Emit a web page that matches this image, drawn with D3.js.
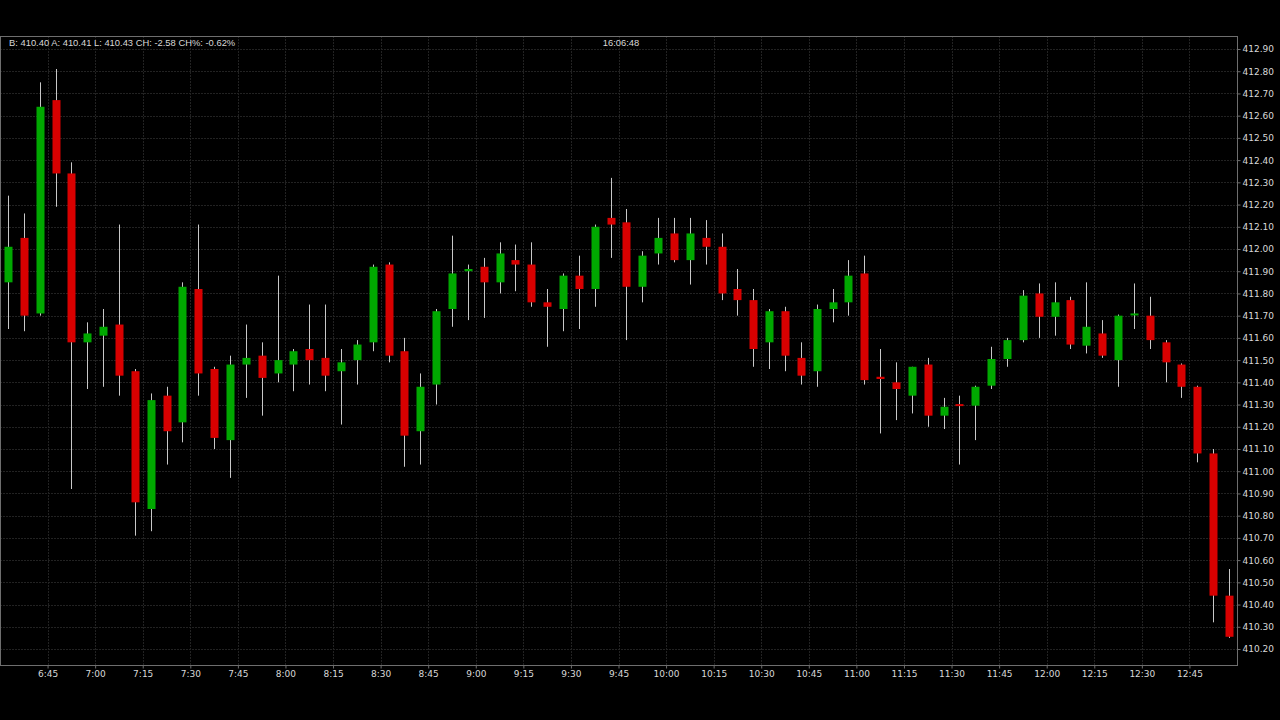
<!DOCTYPE html>
<html><head><meta charset="utf-8">
<script src="https://cdn.jsdelivr.net/npm/d3@7"></script>
<style>html,body{margin:0;padding:0;background:#000;overflow:hidden}</style>
</head><body><svg id="c" width="1280" height="720"></svg>
<script>
const times = ["6:30","6:35","6:40","6:45","6:50","6:55","7:00","7:05","7:10","7:15","7:20","7:25","7:30","7:35","7:40","7:45","7:50","7:55",
"8:00","8:05","8:10","8:15","8:20","8:25","8:30","8:35","8:40","8:45","8:50","8:55","9:00","9:05","9:10","9:15","9:20","9:25","9:30","9:35","9:40","9:45","9:50","9:55",
"10:00","10:05","10:10","10:15","10:20","10:25","10:30","10:35","10:40","10:45","10:50","10:55","11:00","11:05","11:10","11:15","11:20","11:25","11:30","11:35","11:40","11:45","11:50","11:55",
"12:00","12:05","12:10","12:15","12:20","12:25","12:30","12:35","12:40","12:45","12:50","12:55"];
const open = [411.85,412.05,411.71,412.67,412.34,411.58,411.61,411.66,411.45,410.83,411.34,411.22,411.82,411.46,411.14,411.48,411.52,411.44,
411.48,411.55,411.51,411.45,411.50,411.58,411.93,411.54,411.18,411.39,411.73,411.90,411.92,411.85,411.95,411.93,411.76,411.73,411.88,411.82,412.14,412.12,411.83,411.98,
412.07,411.95,412.05,412.01,411.82,411.77,411.58,411.72,411.51,411.45,411.73,411.76,411.89,411.425,411.40,411.34,411.48,411.25,411.302,411.295,411.385,411.505,411.59,411.80,
411.695,411.77,411.565,411.62,411.50,411.703,411.70,411.58,411.48,411.38,411.08,410.44];
const high = [412.24,412.16,412.75,412.81,412.39,411.67,411.73,412.11,411.46,411.35,411.38,411.85,412.11,411.47,411.52,411.66,411.58,411.88,
411.55,411.75,411.75,411.55,411.59,411.93,411.94,411.60,411.44,411.73,412.06,411.93,411.96,412.03,412.02,412.03,411.82,411.89,411.97,412.11,412.32,412.18,411.99,412.14,
412.14,412.14,412.13,412.07,411.91,411.82,411.73,411.74,411.58,411.75,411.82,411.95,411.97,411.55,411.49,411.47,411.51,411.33,411.34,411.385,411.56,411.60,411.815,411.845,
411.85,411.785,411.85,411.68,411.705,411.845,411.785,411.59,411.485,411.385,411.10,410.56];
const low = [411.64,411.63,411.70,412.19,410.92,411.37,411.38,411.34,410.71,410.73,411.03,411.13,411.34,411.10,410.97,411.33,411.25,411.40,
411.36,411.39,411.36,411.21,411.39,411.54,411.49,411.02,411.03,411.30,411.65,411.68,411.69,411.80,411.81,411.74,411.56,411.63,411.64,411.74,411.96,411.59,411.76,411.93,
411.94,411.84,411.93,411.77,411.70,411.47,411.46,411.45,411.39,411.38,411.67,411.70,411.39,411.17,411.23,411.26,411.20,411.19,411.03,411.14,411.37,411.47,411.58,411.60,
411.61,411.55,411.53,411.51,411.38,411.64,411.55,411.40,411.33,411.04,410.32,410.25];
const close = [412.01,411.70,412.64,412.34,411.58,411.62,411.65,411.43,410.86,411.32,411.18,411.83,411.44,411.15,411.48,411.51,411.42,411.50,
411.54,411.50,411.43,411.49,411.57,411.92,411.52,411.16,411.38,411.72,411.89,411.91,411.85,411.98,411.93,411.76,411.74,411.88,411.82,412.10,412.11,411.83,411.97,412.05,
411.95,412.07,412.01,411.80,411.77,411.55,411.72,411.52,411.43,411.73,411.76,411.88,411.41,411.415,411.37,411.47,411.25,411.29,411.295,411.38,411.505,411.59,411.79,411.695,
411.76,411.57,411.65,411.52,411.70,411.71,411.59,411.49,411.38,411.08,410.44,410.255];
const priceTicks = [410.2,410.3,410.4,410.5,410.6,410.7,410.8,410.9,411.0,411.1,411.2,411.3,411.4,411.5,411.6,411.7,411.8,411.9,412.0,412.1,412.2,412.3,412.4,412.5,412.6,412.7,412.8,412.9];
const timeTicks = ["6:45","7:00","7:15","7:30","7:45","8:00","8:15","8:30","8:45","9:00","9:15","9:30","9:45","10:00","10:15","10:30","10:45","11:00","11:15","11:30","11:45","12:00","12:15","12:30","12:45"];
const headerText = "B: 410.40 A: 410.41 L: 410.43 CH: -2.58 CH%: -0.62%";
const clockText = "16:06:48";

const toDate = s => { const [h,m] = s.split(":").map(Number); return new Date(2020,0,1,h,m); };
const svg = d3.select("#c");
svg.append("rect").attr("width",1280).attr("height",720).attr("fill","#000");

const L = 0, R = 1237, T = 36, B = 665;
const x = d3.scaleTime().domain([toDate("6:30"), toDate("13:00")]).range([L, R]);
const y = d3.scaleLinear().domain([410.2, 412.9]).range([649, 49]);

// grid
const grid = svg.append("g");
grid.selectAll("line.h").data(priceTicks).join("line")
  .attr("x1", L).attr("x2", R)
  .attr("y1", d => Math.round(y(d)) + 0.5).attr("y2", d => Math.round(y(d)) + 0.5)
  .attr("stroke", "#222").attr("stroke-dasharray", "2,1");
grid.selectAll("line.v").data(timeTicks).join("line")
  .attr("y1", T).attr("y2", B)
  .attr("x1", d => Math.round(x(toDate(d))) + 0.5).attr("x2", d => Math.round(x(toDate(d))) + 0.5)
  .attr("stroke", "#222").attr("stroke-dasharray", "2,1");

// candles
const data = times.map((t,i) => ({t: toDate(t), o: open[i], h: high[i], l: low[i], c: close[i]}));
const cx = d => Math.round(x(new Date(d.t.getTime() + 150000)));
const cg = svg.append("g");
cg.selectAll("line.w").data(data).join("line")
  .attr("x1", d => cx(d) + 0.5).attr("x2", d => cx(d) + 0.5)
  .attr("y1", d => y(d.h)).attr("y2", d => y(d.l))
  .attr("stroke", "#c8c8c8").attr("stroke-width", 1);
cg.selectAll("rect").data(data).join("rect")
  .attr("x", d => cx(d) - 3.5).attr("width", 8)
  .attr("y", d => Math.min(y(d.o), y(d.c)))
  .attr("height", d => Math.max(2, Math.abs(y(d.o) - y(d.c))))
  .attr("fill", d => d.c >= d.o ? "#00a800" : "#d80000");

// border
svg.append("rect").attr("x", L + 0.5).attr("y", T + 0.5).attr("width", R - L).attr("height", B - T)
  .attr("fill", "none").attr("stroke", "#6e6e6e");

// axes
const yAxis = d3.axisRight(y).tickValues(priceTicks).tickFormat(d3.format(".2f")).tickSize(3).tickPadding(2);
const ga = svg.append("g").attr("transform", `translate(${R + 0.5},0)`).call(yAxis);
const xAxis = d3.axisBottom(x).tickValues(timeTicks.map(toDate)).tickFormat(d3.timeFormat("%-H:%M")).tickSize(3).tickPadding(2);
const gb = svg.append("g").attr("transform", `translate(0,${B + 0.5})`).call(xAxis);
[ga, gb].forEach(g => {
  g.select(".domain").remove();
  g.selectAll(".tick line").attr("stroke", "#6e6e6e");
  g.selectAll(".tick text").attr("fill", "#d8d8d8").style("font-family", "DejaVu Sans, sans-serif").style("font-size", "9px");
});

// header
svg.append("text").attr("x", 9).attr("y", 46).text(headerText)
  .attr("fill", "#d8d8d8").style("font-family", "Liberation Sans, Arial, sans-serif").style("font-size", "9.4px");
svg.append("text").attr("x", 621).attr("y", 46).attr("text-anchor", "middle").text(clockText)
  .attr("fill", "#d8d8d8").style("font-family", "Liberation Sans, Arial, sans-serif").style("font-size", "9.4px");
</script></body></html>
